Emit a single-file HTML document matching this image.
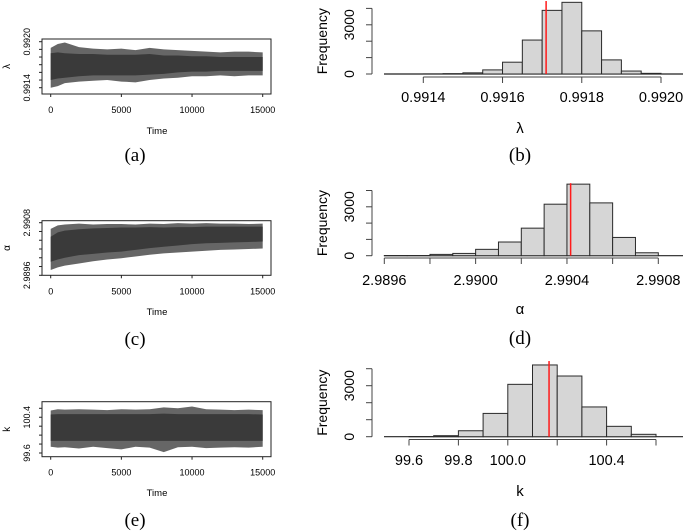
<!DOCTYPE html>
<html><head><meta charset="utf-8"><style>
body{margin:0;background:#fff;width:685px;height:531px;overflow:hidden}
svg{display:block}
text{font-family:"Liberation Sans",sans-serif;fill:#000}
.cap{font-family:"Liberation Serif",serif;font-size:19px}
</style></head><body>
<svg id="fig" width="685" height="531" viewBox="0 0 685 531"></svg>
<script>
// ---- data ----
const traceTimes = [0,500,1000,2000,3000,4000,5000,6000,7000,8000,9000,10000,11000,12000,13000,14000,15000];
const lamCoreUp = [0.99185,0.99186,0.99185,0.99184,0.99184,0.99183,0.99183,0.99183,0.99184,0.99182,0.99182,0.99181,0.99181,0.99180,0.99180,0.99180,0.99180];
const lamCoreLo = [0.99150,0.99152,0.99153,0.99155,0.99156,0.99156,0.99156,0.99156,0.99157,0.99158,0.99160,0.99161,0.99161,0.99162,0.99162,0.99162,0.99162];
const lamOutUp = [0.99192,0.99197,0.99199,0.99193,0.99191,0.99190,0.99191,0.99189,0.99192,0.99190,0.99189,0.99188,0.99187,0.99186,0.99187,0.99187,0.99186];
const lamOutLo = [0.99140,0.99142,0.99146,0.99148,0.99149,0.99150,0.99148,0.99147,0.99150,0.99152,0.99153,0.99155,0.99155,0.99156,0.99155,0.99156,0.99156];
const alpCoreUp = [2.99048,2.99058,2.99062,2.99065,2.99067,2.99068,2.99069,2.99069,2.99070,2.99069,2.99070,2.99070,2.99071,2.99071,2.99071,2.99071,2.99071];
const alpCoreLo = [2.98991,2.98996,2.99000,2.99006,2.99009,2.99012,2.99014,2.99018,2.99022,2.99025,2.99028,2.99031,2.99033,2.99034,2.99035,2.99036,2.99037];
const alpOutUp = [2.99066,2.99074,2.99076,2.99078,2.99076,2.99077,2.99077,2.99076,2.99078,2.99077,2.99079,2.99078,2.99079,2.99078,2.99078,2.99077,2.99078];
const alpOutLo = [2.98972,2.98978,2.98982,2.98987,2.98992,2.98996,2.98999,2.99003,2.99007,2.99010,2.99012,2.99014,2.99016,2.99018,2.99019,2.99020,2.99021];
const kCoreUp = [100.46,100.47,100.47,100.47,100.47,100.47,100.47,100.47,100.47,100.48,100.47,100.47,100.47,100.47,100.47,100.47,100.46];
const kCoreLo = [99.87,99.87,99.87,99.87,99.87,99.87,99.87,99.87,99.87,99.87,99.87,99.87,99.87,99.87,99.87,99.87,99.87];
const kOutUp = [100.55,100.58,100.57,100.58,100.57,100.56,100.58,100.57,100.58,100.62,100.60,100.64,100.58,100.57,100.56,100.57,100.56];
const kOutLo = [99.74,99.72,99.73,99.70,99.74,99.71,99.68,99.74,99.72,99.62,99.73,99.74,99.71,99.72,99.73,99.72,99.74];

const lamBins = [0.99140,0.99145,0.99150,0.99155,0.99160,0.99165,0.99170,0.99175,0.99180,0.99185,0.99190,0.99195];
const lamCounts = [5,20,70,250,720,2070,3880,4370,2630,860,180,40];
const alpBins = [2.9896,2.9897,2.9898,2.9899,2.9900,2.9901,2.9902,2.9903,2.9904,2.9905,2.9906,2.9907];
const alpCounts = [10,10,80,140,390,840,1690,3160,4390,3240,1120,180];
const kBins = [99.6,99.7,99.8,99.9,100.0,100.1,100.2,100.3,100.4,100.5];
const kCounts = [10,60,350,1370,3080,4220,3570,1750,610,140];
const lamMean = 0.99171, alpMean = 2.990416, kMean = 100.167;

const NS="http://www.w3.org/2000/svg";
const svg=document.getElementById('fig');
function mk(tag,attrs,parent,txt){const e=document.createElementNS(NS,tag);for(const k in attrs)e.setAttribute(k,attrs[k]);if(txt!==undefined)e.textContent=txt;(parent||svg).appendChild(e);return e;}

function trace(o){
  const g=mk('g',{});
  
  
  const X=t=>50.7+(t/15000)*(262.7-50.7);
  const Y=v=>o.yTop+(o.vTop-v)/(o.vTop-o.vBot)*(o.yBot-o.yTop);
  const poly=(up,lo,fill,nm)=>{
    let p=traceTimes.map((t,i)=>X(t)+','+Y(up[i])).join(' ')+' '+traceTimes.slice().reverse().map((t,j)=>{const i=traceTimes.length-1-j;return X(t)+','+Y(lo[i]);}).join(' ');
    const e=mk('polygon',{points:p,fill:fill},g);
    
    
  };
  poly(o.outUp,o.outLo,'#666666',o.name+'-trace-extremes');
  poly(o.coreUp,o.coreLo,'#3a3a3a',o.name+'-trace-band');
  mk('rect',{x:42,y:o.boxTop,width:229,height:o.boxBot-o.boxTop,fill:'none',stroke:'#222','stroke-width':1},g);
  [0,5000,10000,15000].forEach(t=>{
    mk('line',{x1:X(t),x2:X(t),y1:o.boxBot,y2:o.boxBot+3,stroke:'#222'},g);
    mk('text',{x:X(t),y:o.boxBot+19,'font-size':9,'text-anchor':'middle'},g,String(t));
  });
  const tl=mk('text',{x:157,y:o.timeY,'font-size':9.5,'text-anchor':'middle'},g,'Time');
  
  
  o.yTicks.forEach(v=>mk('line',{x1:39,x2:42,y1:Y(v),y2:Y(v),stroke:'#222'},g));
  o.yLabels.forEach(v=>{const yy=Y(v);mk('text',{x:30,y:yy,'font-size':9,'text-anchor':'middle',transform:`rotate(-90 30 ${yy})`},g,o.fmt(v));});
  const my=(o.boxTop+o.boxBot)/2;
  mk('text',{x:10,y:my,'font-size':10,'text-anchor':'middle',transform:`rotate(-90 10 ${my})`},g,o.sym);
  const c=mk('text',{x:135,y:o.capY,'text-anchor':'middle',class:'cap'},g,o.cap);
  
  
}
function hist(o){
  const g=mk('g',{});
  
  
  const X=v=>o.x0+(v-o.v0)/(o.v1-o.v0)*(o.x1-o.x0);
  const Y=c=>o.base-c/1000*o.per1000;
  mk('line',{x1:384,x2:683,y1:o.base,y2:o.base,stroke:'#222','stroke-width':1.2},g);
  o.bins.forEach((b,i)=>{
    const r=mk('rect',{x:X(b),y:Y(o.counts[i]),width:X(b+o.bw)-X(b),height:o.base-Y(o.counts[i]),fill:'#d6d6d6',stroke:'#2a2a2a','stroke-width':1},g);
    
    
  });
  const m=mk('line',{x1:X(o.mean),x2:X(o.mean),y1:Y(4450),y2:o.base,stroke:'#ff1a1a','stroke-width':1.5},g);
  
  
  mk('line',{x1:X(o.ticks[0]),x2:X(o.ticks[o.ticks.length-1]),y1:o.axY,y2:o.axY,stroke:'#444'},g);
  o.ticks.forEach(v=>mk('line',{x1:X(v),x2:X(v),y1:o.axY,y2:o.axY+6,stroke:'#444'},g));
  o.labels.forEach(v=>mk('text',{x:X(v),y:o.labY,'font-size':14.5,'text-anchor':'middle'},g,o.fmt(v)));
  const xl=mk('text',{x:520,y:o.symY,'font-size':15,'text-anchor':'middle'},g,o.sym);
  
  
  mk('line',{x1:372,x2:372,y1:Y(0),y2:Y(4000),stroke:'#444'},g);
  [0,1000,2000,3000,4000].forEach(c=>mk('line',{x1:366,x2:372,y1:Y(c),y2:Y(c),stroke:'#444'},g));
  [0,3000].forEach(c=>{const yy=Y(c);mk('text',{x:354,y:yy,'font-size':14,'text-anchor':'middle',transform:`rotate(-90 354 ${yy})`},g,String(c));});
  const fy=Y(2000);
  const fl=mk('text',{x:327,y:fy,'font-size':14,'text-anchor':'middle',transform:`rotate(-90 327 ${fy})`},g,'Frequency');
  
  
  const c=mk('text',{x:520,y:o.capY,'text-anchor':'middle',class:'cap'},g,o.cap);
  
  
}
trace({name:'lambda',sym:'λ',cap:'(a)',boxTop:39,boxBot:94,yTop:41.7,yBot:87.7,vTop:0.9920,vBot:0.9914,
  yTicks:[0.9920,0.9919,0.9918,0.9917,0.9916,0.9915,0.9914],yLabels:[0.9920,0.9914],fmt:v=>v.toFixed(4),
  coreUp:lamCoreUp,coreLo:lamCoreLo,outUp:lamOutUp,outLo:lamOutLo,timeY:134,capY:161});
trace({name:'alpha',sym:'α',cap:'(c)',boxTop:220.7,boxBot:275.3,yTop:222.7,yBot:275.3,vTop:2.9908,vBot:2.9896,
  yTicks:[2.9908,2.9906,2.9904,2.9902,2.9900,2.9898,2.9896],yLabels:[2.9908,2.9896],fmt:v=>v.toFixed(4),
  coreUp:alpCoreUp,coreLo:alpCoreLo,outUp:alpOutUp,outLo:alpOutLo,timeY:315,capY:345});
trace({name:'k',sym:'k',cap:'(e)',boxTop:401.7,boxBot:456.7,yTop:408.3,yBot:453,vTop:100.6,vBot:99.6,
  yTicks:[100.6,100.4,100.2,100.0,99.8,99.6],yLabels:[100.4,99.6],fmt:v=>v.toFixed(1),
  coreUp:kCoreUp,coreLo:kCoreLo,outUp:kOutUp,outLo:kOutLo,timeY:496,capY:526});
hist({name:'lambda',sym:'λ',cap:'(b)',x0:423.3,x1:661,v0:0.9914,v1:0.9920,bw:0.00005,bins:lamBins,counts:lamCounts,mean:lamMean,
  base:74,per1000:16.4,axY:77,labY:102,symY:133,capY:161,ticks:[0.9914,0.9916,0.9918,0.9920],labels:[0.9914,0.9916,0.9918,0.9920],fmt:v=>v.toFixed(4)});
hist({name:'alpha',sym:'α',cap:'(d)',x0:384.3,x1:658.3,v0:2.9896,v1:2.9908,bw:0.0001,bins:alpBins,counts:alpCounts,mean:alpMean,
  base:255.7,per1000:16.3,axY:258,labY:285,symY:314,capY:344,ticks:[2.9896,2.9898,2.9900,2.9902,2.9904,2.9906,2.9908],labels:[2.9896,2.9900,2.9904,2.9908],fmt:v=>v.toFixed(4)});
hist({name:'k',sym:'k',cap:'(f)',x0:409,x1:656,v0:99.6,v1:100.6,bw:0.1,bins:kBins,counts:kCounts,mean:kMean,
  base:436.7,per1000:17,axY:439.5,labY:465,symY:496,capY:526,ticks:[99.6,99.8,100.0,100.2,100.4,100.6],labels:[99.6,99.8,100.0,100.4],fmt:v=>v.toFixed(1)});
</script>
</body></html>
